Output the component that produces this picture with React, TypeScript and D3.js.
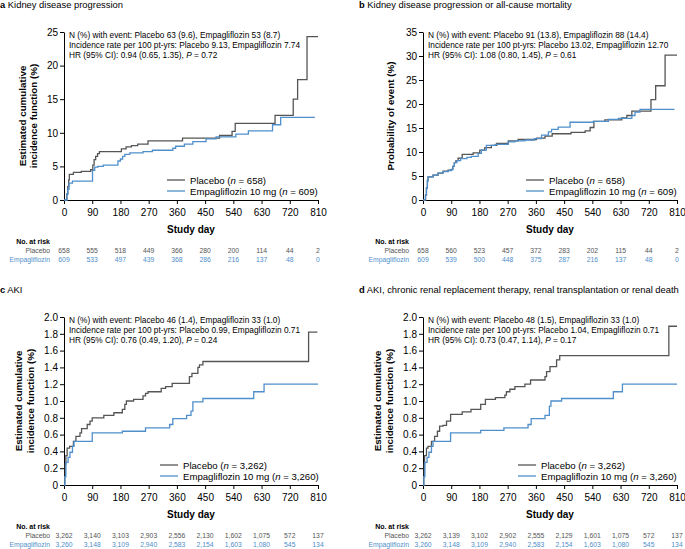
import { useEffect, useRef } from "react";
import * as d3 from "d3";

// Kaplan–Meier style cumulative incidence, four panels (day, %)
const FONT = "'Liberation Sans', Arial, sans-serif";
const PLACEBO_COLOR = "#555555";
const EMPA_COLOR = "#4f8fcb";

const dayTicks = [0, 90, 180, 270, 360, 450, 540, 630, 720, 810];

const kidneyPlacebo: [number, number][] = [
  [0, 0], [6, 0], [9, 0.9], [12, 2.0], [15, 3.0], [17, 3.8], [30, 4.1], [55, 4.25], [85, 4.5],
  [92, 5.2], [96, 6.0], [101, 6.5], [107, 6.9], [113, 7.2], [183, 7.6], [198, 7.9], [215, 8.1],
  [235, 8.3], [268, 8.8], [378, 9.2], [496, 9.6], [536, 10.2], [546, 11.4], [673, 12.6],
  [731, 15.0], [745, 17.9], [775, 24.3], [810, 24.3],
];
const kidneyEmpa: [number, number][] = [
  [0, 0], [6, 0], [9, 0.8], [12, 1.6], [16, 2.5], [27, 2.8], [91, 4.4], [98, 4.9], [108, 5.0],
  [125, 5.2], [172, 5.8], [180, 6.1], [187, 6.5], [194, 6.8], [210, 7.0], [252, 7.2], [282, 7.4],
  [347, 7.7], [356, 8.0], [384, 8.3], [411, 8.7], [453, 9.1], [485, 9.4], [548, 9.8], [588, 10.3],
  [665, 11.2], [691, 12.3], [800, 12.3],
];

const mortPlacebo: [number, number][] = [
  [0, 0], [5, 0], [8, 1], [11, 2.5], [14, 4.0], [16, 4.8], [32, 5.2], [48, 5.6], [64, 6.0],
  [80, 6.2], [90, 6.4], [95, 7.0], [100, 7.8], [105, 8.2], [112, 8.7], [125, 9.5], [160, 9.8],
  [181, 10.4], [197, 10.9], [218, 11.4], [235, 11.8], [272, 12.3], [303, 12.6], [362, 12.9],
  [389, 13.3], [412, 13.8], [472, 14.1], [517, 14.4], [533, 15.1], [545, 16.4], [580, 16.7],
  [634, 17.1], [650, 17.6], [666, 18.5], [727, 20.9], [742, 23.8], [772, 30.2], [810, 30.2],
];
const mortEmpa: [number, number][] = [
  [0, 0], [5, 0], [8, 1], [11, 2.5], [14, 4.0], [16, 4.8], [32, 5.2], [48, 5.6], [64, 5.9],
  [80, 6.1], [90, 6.3], [95, 7.0], [100, 7.8], [108, 8.2], [120, 8.6], [140, 8.9], [154, 9.1],
  [176, 9.7], [186, 10.4], [202, 11.4], [230, 11.6], [272, 12.1], [293, 12.3], [325, 12.5],
  [355, 12.8], [378, 13.5], [400, 14.2], [410, 14.7], [431, 15.2], [469, 16.2], [543, 16.4],
  [591, 16.8], [623, 17.0], [666, 17.6], [676, 18.3], [692, 18.9], [802, 18.9],
];

const akiPlacebo: [number, number][] = [
  [0, 0], [2, 0.1], [4, 0.25], [6, 0.35], [10, 0.44], [18, 0.46], [30, 0.52], [38, 0.58],
  [51, 0.62], [56, 0.67], [74, 0.72], [83, 0.76], [90, 0.8], [127, 0.83], [159, 0.86],
  [186, 0.9], [194, 0.96], [199, 1.0], [222, 1.02], [252, 1.06], [260, 1.09], [268, 1.11],
  [310, 1.15], [324, 1.17], [345, 1.21], [400, 1.29], [408, 1.33], [427, 1.4], [432, 1.43],
  [443, 1.47], [780, 1.82], [808, 1.82],
];
const akiEmpa: [number, number][] = [
  [0, 0], [3, 0.1], [6, 0.27], [13, 0.33], [19, 0.39], [27, 0.46], [32, 0.52], [90, 0.62],
  [186, 0.64], [260, 0.68], [337, 0.72], [347, 0.79], [391, 0.83], [405, 0.88], [411, 0.99],
  [443, 1.03], [605, 1.11], [638, 1.2], [810, 1.2],
];

const akiRrtPlacebo: [number, number][] = [
  [0, 0], [2, 0.1], [4, 0.25], [5, 0.35], [11, 0.44], [16, 0.46], [27, 0.52], [37, 0.58],
  [46, 0.64], [53, 0.7], [64, 0.71], [75, 0.76], [88, 0.84], [125, 0.87], [153, 0.9],
  [184, 0.96], [199, 1.02], [231, 1.04], [261, 1.07], [266, 1.11], [277, 1.14], [293, 1.17],
  [325, 1.2], [343, 1.25], [389, 1.29], [394, 1.35], [405, 1.41], [426, 1.49], [436, 1.54],
  [784, 1.89], [810, 1.89],
];
const akiRrtEmpa: [number, number][] = [
  [0, 0], [3, 0.1], [6, 0.27], [13, 0.33], [19, 0.39], [27, 0.46], [32, 0.52], [88, 0.62],
  [184, 0.65], [258, 0.68], [335, 0.72], [345, 0.79], [389, 0.83], [403, 0.94], [408, 1.0],
  [442, 1.03], [607, 1.11], [636, 1.2], [810, 1.2],
];

const riskPlaceboA = ["658", "555", "518", "449", "366", "280", "200", "114", "44", "2"];
const riskEmpaA = ["609", "533", "497", "439", "368", "286", "216", "137", "48", "0"];
const riskPlaceboB = ["658", "560", "523", "457", "372", "283", "202", "115", "44", "2"];
const riskEmpaB = ["609", "539", "500", "448", "375", "287", "216", "137", "48", "0"];
const riskPlaceboC = ["3,262", "3,140", "3,103", "2,903", "2,556", "2,130", "1,602", "1,075", "572", "137"];
const riskEmpaC = ["3,260", "3,148", "3,109", "2,940", "2,583", "2,154", "1,603", "1,080", "545", "134"];
const riskPlaceboD = ["3,262", "3,139", "3,102", "2,902", "2,555", "2,129", "1,601", "1,075", "572", "137"];
const riskEmpaD = ["3,260", "3,148", "3,109", "2,940", "2,583", "2,154", "1,603", "1,080", "545", "134"];

interface PanelProps {
  letter: string;
  title: string;
  left: number;
  top: number;
  yMax: number;
  yStep: number;
  decimals: boolean;
  yLabel: string[];
  yLabelOffsets: number[];
  notes: [string, string, string, string];
  placebo: [number, number][];
  empa: [number, number][];
  nPlacebo: string;
  nEmpa: string;
  legendDx: number;
  riskPlacebo: string[];
  riskEmpa: string[];
}

const W = 254;
const H = 168;

function Axis({ axis, transform }: { axis: any; transform: string }) {
  const ref = useRef<SVGGElement>(null);
  useEffect(() => {
    const g = d3.select(ref.current!);
    g.call(axis);
    g.attr("font-size", null).attr("font-family", null);
    g.selectAll("text").attr("font-size", 10).attr("font-family", FONT).attr("fill", "#000");
    g.selectAll("line").attr("stroke", "#000");
    g.select(".domain").attr("stroke", "#000");
  });
  return <g ref={ref} transform={transform} />;
}

function Panel(p: PanelProps) {
  const x = d3.scaleLinear().domain([0, 810]).range([p.left, p.left + W]);
  const y = d3.scaleLinear().domain([0, p.yMax]).range([p.top + H, p.top]);
  const bottom = p.top + H;
  const yTicks = d3.range(0, Math.round(p.yMax / p.yStep) + 1).map((i) => +(i * p.yStep).toFixed(2));
  const fmt = (d: number) => (d === 0 ? "0" : p.decimals ? d3.format(".1f")(d) : d3.format("d")(d));
  const line = d3
    .line<[number, number]>()
    .x((d) => x(d[0]))
    .y((d) => y(d[1]))
    .curve(d3.curveStepAfter);

  const xAxis = d3.axisBottom(x).tickValues(dayTicks).tickSize(4).tickSizeOuter(0).tickPadding(5);
  const yAxis = d3
    .axisLeft(y)
    .tickValues(yTicks)
    .tickFormat(fmt as any)
    .tickSize(4)
    .tickSizeOuter(0)
    .tickPadding(2);

  const midY = (p.top + bottom) / 2;
  const lx = p.left + p.legendDx;

  return (
    <g fontFamily={FONT}>
      <text x={p.left - 64} y={p.top - 24} fontSize={9.4}>
        <tspan fontWeight="bold">{p.letter}</tspan> {p.title}
      </text>
      <Axis axis={xAxis} transform={`translate(0,${bottom})`} />
      <Axis axis={yAxis} transform={`translate(${p.left},0)`} />
      {p.yLabel.map((t, i) => (
        <text
          key={i}
          transform={`translate(${p.left + p.yLabelOffsets[i]},${midY}) rotate(-90)`}
          textAnchor="middle"
          fontSize={9.8}
          fontWeight="bold"
        >
          {t}
        </text>
      ))}
      <text x={(p.left + p.left + W) / 2} y={bottom + 33} textAnchor="middle" fontSize={10} fontWeight="bold">
        Study day
      </text>
      <g fontSize={8.3}>
        <text x={p.left + 5} y={p.top + 5.5}>
          {p.notes[0]}
        </text>
        <text x={p.left + 5} y={p.top + 15.8}>
          {p.notes[1]}
        </text>
        <text x={p.left + 5} y={p.top + 26}>
          {p.notes[2]}
          <tspan fontStyle="italic">P</tspan>
          {p.notes[3]}
        </text>
      </g>
      <path d={line(p.placebo) ?? ""} fill="none" stroke={PLACEBO_COLOR} strokeWidth={1.3} />
      <path d={line(p.empa) ?? ""} fill="none" stroke={EMPA_COLOR} strokeWidth={1.3} />
      <g fontSize={9.6}>
        <line x1={lx} x2={lx + 18} y1={bottom - 20} y2={bottom - 20} stroke={PLACEBO_COLOR} strokeWidth={1.3} />
        <text x={lx + 23} y={bottom - 16.5}>
          Placebo (<tspan fontStyle="italic">n</tspan> = {p.nPlacebo})
        </text>
        <line x1={lx} x2={lx + 18} y1={bottom - 9} y2={bottom - 9} stroke={EMPA_COLOR} strokeWidth={1.3} />
        <text x={lx + 23} y={bottom - 5.5}>
          Empagliflozin 10 mg (<tspan fontStyle="italic">n</tspan> = {p.nEmpa})
        </text>
      </g>
      <g fontSize={6.8}>
        <text x={p.left - 14} y={bottom + 44} textAnchor="end" fontWeight="bold" fontSize={7}>
          No. at risk
        </text>
        <text x={p.left - 14} y={bottom + 53} textAnchor="end" fill="#555">
          Placebo
        </text>
        <text x={p.left - 14} y={bottom + 62} textAnchor="end" fill={EMPA_COLOR}>
          Empagliflozin
        </text>
        {dayTicks.map((d, i) => (
          <g key={d}>
            <text x={x(d)} y={bottom + 53} textAnchor="middle" fill="#555">
              {p.riskPlacebo[i]}
            </text>
            <text x={x(d)} y={bottom + 62} textAnchor="middle" fill={EMPA_COLOR}>
              {p.riskEmpa[i]}
            </text>
          </g>
        ))}
      </g>
    </g>
  );
}

export default function App() {
  return (
    <svg width={685} height={549} style={{ position: "absolute", left: 0, top: 0, background: "#fff" }}>
      <Panel
        letter="a"
        title="Kidney disease progression"
        left={64}
        top={32}
        yMax={25}
        yStep={5}
        decimals={false}
        yLabel={["Estimated cumulative", "incidence function (%)"]}
        yLabelOffsets={[-38.5, -27.5]}
        notes={[
          "N (%) with event: Placebo 63 (9.6), Empagliflozin 53 (8.7)",
          "Incidence rate per 100 pt-yrs: Placebo 9.13, Empagliflozin 7.74",
          "HR (95% CI): 0.94 (0.65, 1.35), ",
          " = 0.72",
        ]}
        placebo={kidneyPlacebo}
        empa={kidneyEmpa}
        nPlacebo="658"
        nEmpa="609"
        legendDx={103}
        riskPlacebo={riskPlaceboA}
        riskEmpa={riskEmpaA}
      />
      <Panel
        letter="b"
        title="Kidney disease progression or all-cause mortality"
        left={423}
        top={32}
        yMax={35}
        yStep={5}
        decimals={false}
        yLabel={["Probability of event (%)"]}
        yLabelOffsets={[-29.5]}
        notes={[
          "N (%) with event: Placebo 91 (13.8), Empagliflozin 88 (14.4)",
          "Incidence rate per 100 pt-yrs: Placebo 13.02, Empagliflozin 12.70",
          "HR (95% CI): 1.08 (0.80, 1.45), ",
          " = 0.61",
        ]}
        placebo={mortPlacebo}
        empa={mortEmpa}
        nPlacebo="658"
        nEmpa="609"
        legendDx={103}
        riskPlacebo={riskPlaceboB}
        riskEmpa={riskEmpaB}
      />
      <Panel
        letter="c"
        title="AKI"
        left={64}
        top={317}
        yMax={2}
        yStep={0.2}
        decimals={true}
        yLabel={["Estimated cumulative", "incidence function (%)"]}
        yLabelOffsets={[-42.5, -30.5]}
        notes={[
          "N (%) with event: Placebo 46 (1.4), Empagliflozin 33 (1.0)",
          "Incidence rate per 100 pt-yrs: Placebo 0.99, Empagliflozin 0.71",
          "HR (95% CI): 0.76 (0.49, 1.20), ",
          " = 0.24",
        ]}
        placebo={akiPlacebo}
        empa={akiEmpa}
        nPlacebo="3,262"
        nEmpa="3,260"
        legendDx={96}
        riskPlacebo={riskPlaceboC}
        riskEmpa={riskEmpaC}
      />
      <Panel
        letter="d"
        title="AKI, chronic renal replacement therapy, renal transplantation or renal death"
        left={423}
        top={317}
        yMax={2}
        yStep={0.2}
        decimals={true}
        yLabel={["Estimated cumulative", "incidence function (%)"]}
        yLabelOffsets={[-42.5, -30.5]}
        notes={[
          "N (%) with event: Placebo 48 (1.5), Empagliflozin 33 (1.0)",
          "Incidence rate per 100 pt-yrs: Placebo 1.04, Empagliflozin 0.71",
          "HR (95% CI): 0.73 (0.47, 1.14), ",
          " = 0.17",
        ]}
        placebo={akiRrtPlacebo}
        empa={akiRrtEmpa}
        nPlacebo="3,262"
        nEmpa="3,260"
        legendDx={95}
        riskPlacebo={riskPlaceboD}
        riskEmpa={riskEmpaD}
      />
    </svg>
  );
}
